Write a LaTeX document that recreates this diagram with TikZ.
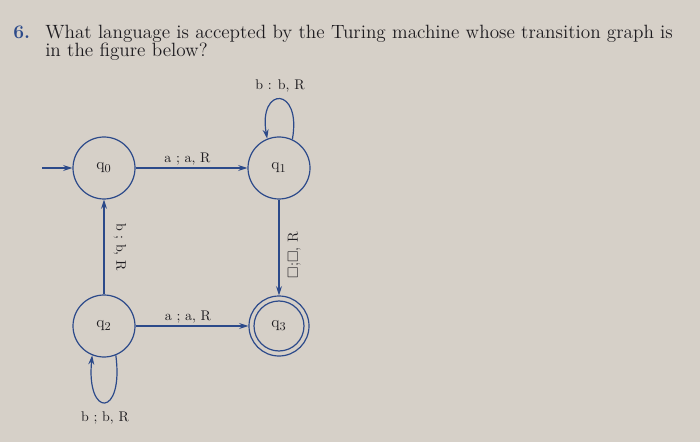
\documentclass[tikz,border=0pt]{standalone}
\usepackage{amsmath, amssymb}
\usepackage{tikz}
\usetikzlibrary{arrows.meta}
\usepackage{xcolor}

\definecolor{paper}{RGB}{214,208,200}
\definecolor{ink}{RGB}{30,28,32}
\definecolor{lineblue}{RGB}{44,74,138}

\begin{document}
\begin{tikzpicture}[x=0.75pt, y=-0.75pt,
		state/.style={draw=lineblue, line width=0.9pt, circle, minimum size=46.5pt, inner sep=0pt, text=ink, font=\fontsize{12.5}{14}\selectfont},
		edge/.style={draw=lineblue, line width=0.9pt, -{Stealth[length=7pt, width=4.5pt]}},
		lbl/.style={text=ink, font=\fontsize{10.5}{12}\selectfont, inner sep=2pt},
		title/.style={anchor=base west, text=ink, font=\fontsize{14.4}{17}\selectfont, inner sep=0pt}]
		
		\fill [paper] (0,0) rectangle (700,442);
		\useasboundingbox (0,0) rectangle (700,442);
		
		\node [title, text=lineblue, font=\fontsize{14.4}{17}\selectfont\bfseries] (num) at (13,39) {6.};
		\node [title] (line1) at (45,39) {What language is accepted by the Turing machine whose transition graph is};
		\node [title] (line2) at (45,57) {in the figure below?};
		
		\node [state] (q0) at (104,168) {$\mathrm{q}_0$};
		\node [state] (q1) at (279,168) {$\mathrm{q}_1$};
		\node [state] (q2) at (104,326) {$\mathrm{q}_2$};
		\node [state, minimum size=45pt] (q3) at (279,326) {$\mathrm{q}_3$};
		\draw [lineblue, line width=0.9pt] (q3.center) circle [radius=25];
		
		\coordinate (start) at (42,168);
		\draw [edge] (start) -- (q0);
		
		\draw [edge] (q0) -- (q1) node [lbl, midway, above, xshift=-3pt] {a ; a, R};
		\draw [edge] (q2) -- (q3) node [lbl, midway, above, xshift=-3pt] {a ; a, R};
		\draw [edge] (q2) -- (q0) node [lbl, midway, xshift=12pt, rotate=-90] {b ; b, R};
		\draw [edge] (q1) -- (q3) node [lbl, pos=0.58, xshift=11.5pt, rotate=90, font=\fontsize{11}{12}\selectfont] {$\square$;$\square$, R};
		
		\draw [edge] (q1.65) .. controls (302,86) and (258,86) .. (q1.112);
		\node [lbl] (loop1) at (280,86) {b : b, R};
		\draw [edge] (q2.-68) .. controls (124,418) and (86,418) .. (q2.-112);
		\node [lbl] (loop2) at (105,418) {b ; b, R};
		
	\end{tikzpicture}
\end{document}
